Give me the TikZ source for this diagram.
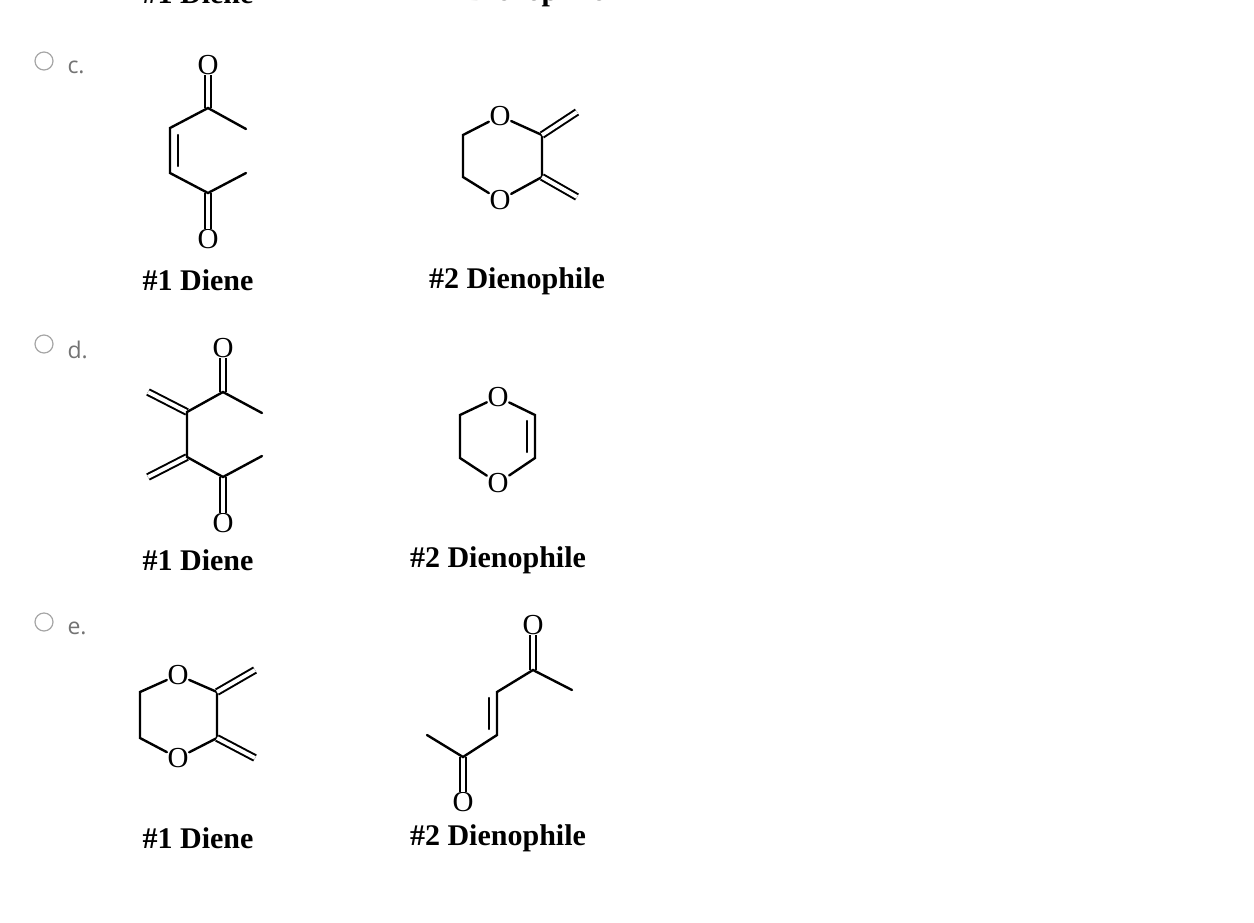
\documentclass[tikz,border=0pt]{standalone}
\usepackage{fontspec}
\setmainfont{Liberation Serif}
\newfontfamily\optfont{Open Sans}
\begin{document}
\begin{tikzpicture}[x=1pt,y=-1pt,
  bond/.style={line width=2.4pt,line cap=round},
  dbl/.style={line width=2pt,double=white,double distance=3.8pt},
  oat/.style={font=\fontsize{29}{29}\selectfont,inner sep=0.5pt},
  lab/.style={font=\bfseries\fontsize{30}{30}\selectfont},
  opt/.style={font=\optfont\fontsize{23}{23}\selectfont,text=gray!90!black},
  radio/.style={draw=gray!70,line width=1.2pt,circle,minimum size=18pt,inner sep=0pt}]
\useasboundingbox (0,0) rectangle (1254,922);
\clip (0,0) rectangle (1254,922);
% cut-off labels at top
\node[lab] (tl1) at (198,-7) {\#1 Diene};
\node[lab] (tl2) at (517,-7) {\#2 Dienophile};
% option markers
\node[radio] (rc) at (44,61) {};
\node[opt,anchor=west] (lc) at (64,67) {c.};
\node[radio] (rd) at (44,344) {};
\node[opt,anchor=west] (ld) at (64,350) {d.};
\node[radio] (re) at (44,622) {};
\node[opt,anchor=west] (le) at (64,628) {e.};
% ---------- c diene
\node[oat] (cO1) at (208,65) {O};
\coordinate (cC1) at (208,108);
\coordinate (cM1) at (246,129);
\coordinate (cC2) at (170,128);
\coordinate (cC3) at (170,173);
\coordinate (cC4) at (208,193);
\coordinate (cM2) at (246,173);
\node[oat] (cO2) at (208,239) {O};
\coordinate (cI1) at (178,135);
\coordinate (cI2) at (178,166);
\draw[dbl] (cO1) -- (cC1);
\draw[dbl] (cC4) -- (cO2);
\draw[bond] (cM1) -- (cC1) -- (cC2) -- (cC3) -- (cC4) -- (cM2);
\draw[bond] (cI1) -- (cI2);
\node[lab] (cL1) at (198,280) {\#1 Diene};
% ---------- c dienophile
\node[oat] (cpO1) at (500,116) {O};
\coordinate (cpA) at (463,135);
\coordinate (cpB) at (463,177);
\node[oat] (cpO2) at (500,200) {O};
\coordinate (cpC) at (542,177);
\coordinate (cpD) at (542,135);
\coordinate (cpE) at (577,112);
\coordinate (cpF) at (577,197);
\draw[bond] (cpO1) -- (cpA) -- (cpB) -- (cpO2);
\draw[bond] (cpO2) -- (cpC) -- (cpD) -- (cpO1);
\draw[dbl] (cpD) -- (cpE);
\draw[dbl] (cpC) -- (cpF);
\node[lab] (cL2) at (517,281) {\#2 Dienophile};
% ---------- d diene
\node[oat] (dO1) at (223,348) {O};
\coordinate (dC1) at (223,392);
\coordinate (dM1) at (262,413);
\coordinate (dC2) at (187,412);
\coordinate (dC3) at (187,457);
\coordinate (dC4) at (223,477);
\coordinate (dM2) at (262,456);
\node[oat] (dO2) at (223,523) {O};
\coordinate (dE1) at (148,392);
\coordinate (dE2) at (148,477);
\draw[dbl] (dO1) -- (dC1);
\draw[dbl] (dC4) -- (dO2);
\draw[dbl] (dC2) -- (dE1);
\draw[dbl] (dC3) -- (dE2);
\draw[bond] (dM1) -- (dC1) -- (dC2) -- (dC3) -- (dC4) -- (dM2);
\node[lab] (dL1) at (198,560) {\#1 Diene};
% ---------- d dienophile
\node[oat] (dpO1) at (498,397) {O};
\coordinate (dpA) at (460,415);
\coordinate (dpB) at (460,458);
\node[oat] (dpO2) at (498,483) {O};
\coordinate (dpC) at (535,458);
\coordinate (dpD) at (535,415);
\coordinate (dpI1) at (527,421);
\coordinate (dpI2) at (527,452);
\draw[bond] (dpO1) -- (dpA) -- (dpB) -- (dpO2);
\draw[bond] (dpO2) -- (dpC) -- (dpD) -- (dpO1);
\draw[bond] (dpI1) -- (dpI2);
\node[lab] (dL2) at (498,560) {\#2 Dienophile};
% ---------- e diene
\node[oat] (eO1) at (178,675) {O};
\coordinate (eA) at (140,692);
\coordinate (eB) at (140,738);
\node[oat] (eO2) at (178,758) {O};
\coordinate (eC) at (217,738);
\coordinate (eD) at (217,692);
\coordinate (eE) at (255,670);
\coordinate (eF) at (255,758);
\draw[bond] (eO1) -- (eA) -- (eB) -- (eO2);
\draw[bond] (eO2) -- (eC) -- (eD) -- (eO1);
\draw[dbl] (eD) -- (eE);
\draw[dbl] (eC) -- (eF);
\node[lab] (eL1) at (198,838) {\#1 Diene};
% ---------- e dienophile
\node[oat] (epO1) at (533,625) {O};
\coordinate (epC1) at (533,670);
\coordinate (epM1) at (572,690);
\coordinate (epC2) at (497,692);
\coordinate (epC3) at (497,735);
\coordinate (epC4) at (463,757);
\coordinate (epM2) at (427,735);
\node[oat] (epO2) at (463,802) {O};
\coordinate (epI1) at (489,698);
\coordinate (epI2) at (489,729);
\draw[dbl] (epO1) -- (epC1);
\draw[dbl] (epC4) -- (epO2);
\draw[bond] (epM1) -- (epC1) -- (epC2) -- (epC3) -- (epC4) -- (epM2);
\draw[bond] (epI1) -- (epI2);
\node[lab] (eL2) at (498,838) {\#2 Dienophile};
\end{tikzpicture}
\end{document}
